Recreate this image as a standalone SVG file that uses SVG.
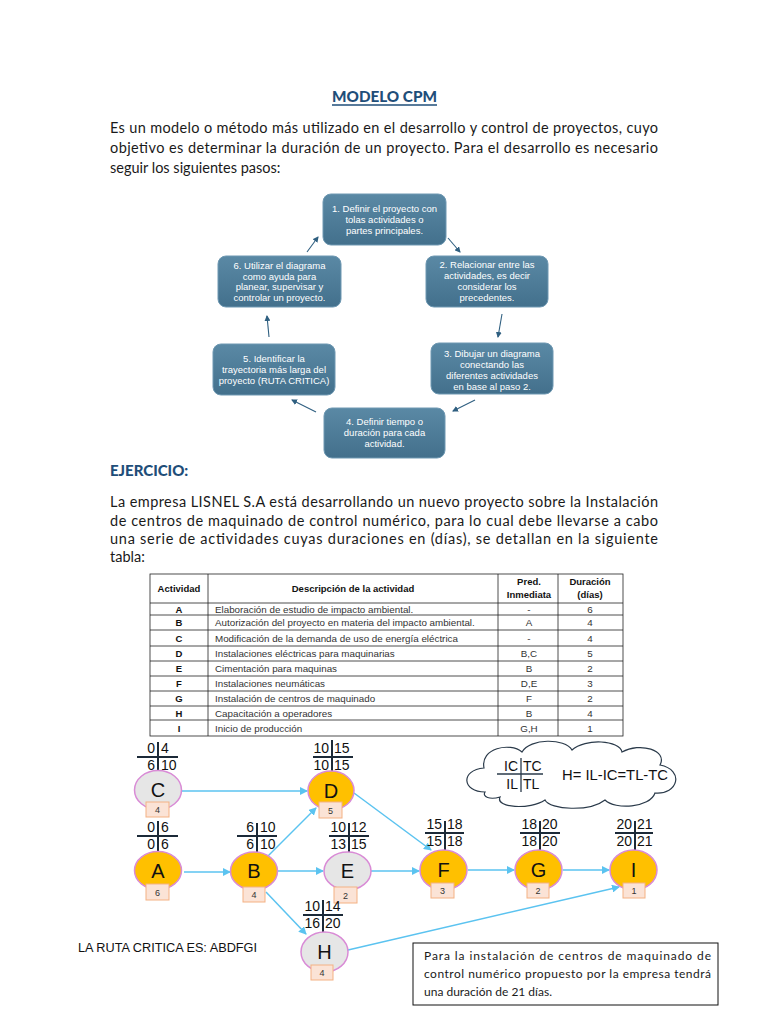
<svg xmlns="http://www.w3.org/2000/svg" width="768" height="1024" viewBox="0 0 768 1024">
<defs>
<linearGradient id="boxg" x1="0" y1="0" x2="0" y2="1">
<stop offset="0" stop-color="#5a89a5"/>
<stop offset="1" stop-color="#43708c"/>
</linearGradient>
<marker id="ab" markerWidth="8" markerHeight="8" refX="7" refY="4" orient="auto" markerUnits="userSpaceOnUse">
<path d="M0,0 L8,4 L0,8 Z" fill="#5bc3f0"/>
</marker>
<marker id="ad" markerWidth="6" markerHeight="6" refX="5" refY="3" orient="auto" markerUnits="userSpaceOnUse">
<path d="M0,0 L6,3 L0,6 Z" fill="#2f5f80"/>
</marker>
<style>
.body{font-family:Lato,"Open Sans","Liberation Sans",sans-serif;font-size:14.5px;fill:#1a1a1a}
.head{font-family:Lato,"Open Sans","Liberation Sans",sans-serif;font-size:15px;font-weight:900;fill:#1f4e79}
.box{fill:url(#boxg);stroke:#6e98b2;stroke-width:1}
.bt{font-family:"Liberation Sans",Arial,sans-serif;font-size:9.5px;fill:#ffffff;text-anchor:middle}
.cyc{stroke:#2f5f80;stroke-width:1.1;fill:none;marker-end:url(#ad)}
.tb{stroke:#222;stroke-width:0.8;fill:none}
.th{font-family:"Liberation Sans",Arial,sans-serif;font-size:9.5px;font-weight:bold;fill:#111;text-anchor:middle}
.td{font-family:"Liberation Sans",Arial,sans-serif;font-size:9.8px;fill:#333}
.tc{font-family:"Liberation Sans",Arial,sans-serif;font-size:9.8px;fill:#333;text-anchor:middle}
.tl{font-family:"Liberation Sans",Arial,sans-serif;font-size:9.5px;font-weight:bold;fill:#111;text-anchor:middle}
.crit{fill:#ffc000;stroke:#d98bd6;stroke-width:1.5}
.norm{fill:#e6e6e6;stroke:#d98bd6;stroke-width:1.5}
.lbl{fill:#fbe3d6;stroke:#f4b183;stroke-width:1}
.lt{font-family:"Liberation Sans",Arial,sans-serif;font-size:9px;fill:#333;text-anchor:middle}
.nl{font-family:"Liberation Sans",Arial,sans-serif;font-size:20px;fill:#111;text-anchor:middle}
.num{font-family:"Liberation Sans",Arial,sans-serif;font-size:14px;fill:#111}
.cr{stroke:#1c2a38;stroke-width:2}
.edge{stroke:#5bc3f0;stroke-width:1.5;fill:none;marker-end:url(#ab)}
.cl{font-family:Lato,"Liberation Sans",sans-serif;font-size:12px;fill:#1a1a1a}
</style>
</defs>
<rect width="768" height="1024" fill="#ffffff"/>

<text x="384.5" y="102" text-anchor="middle" textLength="105" lengthAdjust="spacingAndGlyphs" style="font-family:Lato,'Open Sans','Liberation Sans',sans-serif;font-size:15px;font-weight:900;fill:#1f4e79">MODELO CPM</text>
<line x1="332" y1="105" x2="437" y2="105" stroke="#1f4e79" stroke-width="1.3"/>

<text class="body" x="110" y="133" textLength="548" lengthAdjust="spacing">Es un modelo o método más utilizado en el desarrollo y control de proyectos, cuyo</text>
<text class="body" x="110" y="153" textLength="548" lengthAdjust="spacing">objetivo es determinar la duración de un proyecto. Para el desarrollo es necesario</text>
<text class="body" x="110" y="173">seguir los siguientes pasos:</text>

<g id="step1">
<rect class="box" x="323" y="194" width="123" height="51" rx="8"/>
<text class="bt" x="384.5" y="211.5">1. Definir el proyecto con</text>
<text class="bt" x="384.5" y="222.5">tolas actividades o</text>
<text class="bt" x="384.5" y="233.5">partes principales.</text>
</g>
<g id="step2">
<rect class="box" x="426" y="256" width="122" height="51" rx="8"/>
<text class="bt" x="487" y="268">2. Relacionar entre las</text>
<text class="bt" x="487" y="279">actividades, es decir</text>
<text class="bt" x="487" y="290">considerar los</text>
<text class="bt" x="487" y="301">precedentes.</text>
</g>
<g id="step3">
<rect class="box" x="431" y="343" width="122" height="51" rx="8"/>
<text class="bt" x="492" y="356.5">3. Dibujar un diagrama</text>
<text class="bt" x="492" y="367.5">conectando las</text>
<text class="bt" x="492" y="378.5">diferentes actividades</text>
<text class="bt" x="492" y="389.5">en base al paso 2.</text>
</g>
<g id="step4">
<rect class="box" x="324" y="408" width="121" height="50" rx="8"/>
<text class="bt" x="384.5" y="424.5">4. Definir tiempo o</text>
<text class="bt" x="384.5" y="435.5">duración para cada</text>
<text class="bt" x="384.5" y="446.5">actividad.</text>
</g>
<g id="step5">
<rect class="box" x="213" y="344" width="122" height="51" rx="8"/>
<text class="bt" x="274" y="361.5">5. Identificar la</text>
<text class="bt" x="274" y="372.5">trayectoria más larga del</text>
<text class="bt" x="274" y="383.5">proyecto (RUTA CRITICA)</text>
</g>
<g id="step6">
<rect class="box" x="218" y="256" width="123" height="51" rx="8"/>
<text class="bt" x="279.5" y="268.5">6. Utilizar el diagrama</text>
<text class="bt" x="279.5" y="279.5">como ayuda para</text>
<text class="bt" x="279.5" y="290">planear, supervisar y</text>
<text class="bt" x="279.5" y="300.5">controlar un proyecto.</text>
</g>
<g id="cycle-connectors">
<line class="cyc" x1="448" y1="238" x2="460" y2="252"/>
<line class="cyc" x1="502" y1="314" x2="498" y2="337"/>
<line class="cyc" x1="475" y1="400" x2="453" y2="411"/>
<line class="cyc" x1="316" y1="412" x2="292" y2="400"/>
<line class="cyc" x1="269" y1="337" x2="267" y2="316"/>
<line class="cyc" x1="307" y1="252" x2="318" y2="237"/>
</g>

<text class="head" x="110" y="476">EJERCICIO:</text>

<text class="body" x="110" y="507" textLength="548" lengthAdjust="spacing">La empresa LISNEL S.A está desarrollando un nuevo proyecto sobre la Instalación</text>
<text class="body" x="110" y="526" textLength="548" lengthAdjust="spacing">de centros de maquinado de control numérico, para lo cual debe llevarse a cabo</text>
<text class="body" x="110" y="544" textLength="548" lengthAdjust="spacing">una serie de actividades cuyas duraciones en (días), se detallan en la siguiente</text>
<text class="body" x="110" y="562">tabla:</text>

<g id="table">
<rect class="tb" x="150" y="574" width="473" height="162" stroke-width="1.2"/>
<line class="tb" x1="208" y1="574" x2="208" y2="736"/>
<line class="tb" x1="498" y1="574" x2="498" y2="736"/>
<line class="tb" x1="558" y1="574" x2="558" y2="736"/>
<line class="tb" x1="150" y1="603" x2="623" y2="603"/>
<line class="tb" x1="150" y1="615" x2="623" y2="615"/>
<line class="tb" x1="150" y1="630" x2="623" y2="630"/>
<line class="tb" x1="150" y1="646" x2="623" y2="646"/>
<line class="tb" x1="150" y1="661" x2="623" y2="661"/>
<line class="tb" x1="150" y1="676" x2="623" y2="676"/>
<line class="tb" x1="150" y1="691" x2="623" y2="691"/>
<line class="tb" x1="150" y1="706" x2="623" y2="706"/>
<line class="tb" x1="150" y1="720" x2="623" y2="720"/>
<text class="th" x="179" y="592">Actividad</text>
<text class="th" x="353" y="592">Descripción de la actividad</text>
<text class="th" x="529" y="585">Pred.</text>
<text class="th" x="529" y="598">Inmediata</text>
<text class="th" x="590" y="585">Duración</text>
<text class="th" x="590" y="598">(días)</text>

<text class="tl" x="179" y="612.5">A</text><text class="td" x="215" y="612.5">Elaboración de estudio de impacto ambiental.</text><text class="tc" x="529" y="612.5">-</text><text class="tc" x="590" y="612.5">6</text>
<text class="tl" x="179" y="626">B</text><text class="td" x="215" y="626">Autorización del proyecto en materia del impacto ambiental.</text><text class="tc" x="529" y="626">A</text><text class="tc" x="590" y="626">4</text>
<text class="tl" x="179" y="641.5">C</text><text class="td" x="215" y="641.5">Modificación de la demanda de uso de energía eléctrica</text><text class="tc" x="529" y="641.5">-</text><text class="tc" x="590" y="641.5">4</text>
<text class="tl" x="179" y="657">D</text><text class="td" x="215" y="657">Instalaciones eléctricas para maquinarias</text><text class="tc" x="529" y="657">B,C</text><text class="tc" x="590" y="657">5</text>
<text class="tl" x="179" y="672">E</text><text class="td" x="215" y="672">Cimentación para maquinas</text><text class="tc" x="529" y="672">B</text><text class="tc" x="590" y="672">2</text>
<text class="tl" x="179" y="687">F</text><text class="td" x="215" y="687">Instalaciones neumáticas</text><text class="tc" x="529" y="687">D,E</text><text class="tc" x="590" y="687">3</text>
<text class="tl" x="179" y="702">G</text><text class="td" x="215" y="702">Instalación de centros de maquinado</text><text class="tc" x="529" y="702">F</text><text class="tc" x="590" y="702">2</text>
<text class="tl" x="179" y="716.5">H</text><text class="td" x="215" y="716.5">Capacitación a operadores</text><text class="tc" x="529" y="716.5">B</text><text class="tc" x="590" y="716.5">4</text>
<text class="tl" x="179" y="731.5">I</text><text class="td" x="215" y="731.5">Inicio de producción</text><text class="tc" x="529" y="731.5">G,H</text><text class="tc" x="590" y="731.5">1</text>
</g>

<g id="connectors">
<line class="edge" x1="182" y1="791" x2="307" y2="791"/>
<line class="edge" x1="184" y1="872" x2="230" y2="872"/>
<line class="edge" x1="268" y1="856" x2="316" y2="808"/>
<line class="edge" x1="278" y1="871" x2="323" y2="871"/>
<line class="edge" x1="266" y1="892" x2="306" y2="934"/>
<line class="edge" x1="354" y1="793" x2="431" y2="850"/>
<line class="edge" x1="371" y1="871" x2="419" y2="871"/>
<line class="edge" x1="468" y1="870" x2="514" y2="870"/>
<line class="edge" x1="563" y1="870" x2="609" y2="870"/>
<line class="edge" x1="348" y1="950" x2="619" y2="887"/>
</g>

<g id="node-C">
<line class="cr" x1="137" y1="757" x2="178" y2="757"/><line class="cr" x1="158" y1="742" x2="158" y2="771"/>
<text class="num" x="155" y="753" text-anchor="end">0</text><text class="num" x="161" y="753">4</text>
<text class="num" x="155" y="770" text-anchor="end">6</text><text class="num" x="161" y="770">10</text>
<ellipse class="norm" cx="158" cy="790" rx="23.5" ry="19.5"/>
<text class="nl" x="158" y="797">C</text>
<rect class="lbl" x="146" y="802" width="23" height="15"/><text class="lt" x="157.5" y="813">4</text>
</g>
<g id="node-A">
<line class="cr" x1="137" y1="836" x2="178" y2="836"/><line class="cr" x1="158" y1="821" x2="158" y2="851"/>
<text class="num" x="155" y="832" text-anchor="end">0</text><text class="num" x="161" y="832">6</text>
<text class="num" x="155" y="849" text-anchor="end">0</text><text class="num" x="161" y="849">6</text>
<ellipse class="crit" cx="158" cy="870.5" rx="23.5" ry="19"/>
<text class="nl" x="158" y="878">A</text>
<rect class="lbl" x="146" y="884" width="23" height="16"/><text class="lt" x="157.5" y="895.5">6</text>
</g>
<g id="node-B">
<line class="cr" x1="237" y1="836" x2="277" y2="836"/><line class="cr" x1="257" y1="823" x2="257" y2="852"/>
<text class="num" x="254" y="832" text-anchor="end">6</text><text class="num" x="260" y="832">10</text>
<text class="num" x="254" y="849" text-anchor="end">6</text><text class="num" x="260" y="849">10</text>
<ellipse class="crit" cx="254" cy="871" rx="23.5" ry="19"/>
<text class="nl" x="254" y="878">B</text>
<rect class="lbl" x="243" y="887" width="22" height="15"/><text class="lt" x="254" y="898">4</text>
</g>
<g id="node-D">
<line class="cr" x1="313" y1="757" x2="353" y2="757"/><line class="cr" x1="332" y1="740" x2="332" y2="771"/>
<text class="num" x="329" y="753" text-anchor="end">10</text><text class="num" x="334" y="753">15</text>
<text class="num" x="329" y="770" text-anchor="end">10</text><text class="num" x="334" y="770">15</text>
<ellipse class="crit" cx="331" cy="790.5" rx="23" ry="19.5"/>
<text class="nl" x="331" y="797.5">D</text>
<rect class="lbl" x="319" y="802" width="23" height="16"/><text class="lt" x="330.5" y="814">5</text>
</g>
<g id="node-E">
<line class="cr" x1="329" y1="836" x2="369" y2="836"/><line class="cr" x1="349" y1="823" x2="349" y2="852"/>
<text class="num" x="346" y="832" text-anchor="end">10</text><text class="num" x="351" y="832">12</text>
<text class="num" x="346" y="849" text-anchor="end">13</text><text class="num" x="351" y="849">15</text>
<ellipse class="norm" cx="347.5" cy="871" rx="23.5" ry="19"/>
<text class="nl" x="347.5" y="878">E</text>
<rect class="lbl" x="334" y="887" width="23" height="16"/><text class="lt" x="345.5" y="899">2</text>
</g>
<g id="node-F">
<line class="cr" x1="425" y1="833" x2="464" y2="833"/><line class="cr" x1="445" y1="821" x2="445" y2="850"/>
<text class="num" x="442" y="829" text-anchor="end">15</text><text class="num" x="447" y="829">18</text>
<text class="num" x="442" y="846" text-anchor="end">15</text><text class="num" x="447" y="846">18</text>
<ellipse class="crit" cx="443.5" cy="870" rx="23.5" ry="20"/>
<text class="nl" x="443.5" y="877">F</text>
<rect class="lbl" x="431" y="883" width="23" height="15"/><text class="lt" x="442.5" y="894">3</text>
</g>
<g id="node-G">
<line class="cr" x1="520" y1="833" x2="560" y2="833"/><line class="cr" x1="540" y1="821" x2="540" y2="850"/>
<text class="num" x="537" y="829" text-anchor="end">18</text><text class="num" x="542" y="829">20</text>
<text class="num" x="537" y="846" text-anchor="end">18</text><text class="num" x="542" y="846">20</text>
<ellipse class="crit" cx="538.5" cy="870" rx="23.5" ry="20"/>
<text class="nl" x="538.5" y="877">G</text>
<rect class="lbl" x="527" y="883" width="22" height="15"/><text class="lt" x="538" y="894">2</text>
</g>
<g id="node-I">
<line class="cr" x1="615" y1="833" x2="653" y2="833"/><line class="cr" x1="635" y1="821" x2="635" y2="850"/>
<text class="num" x="632" y="829" text-anchor="end">20</text><text class="num" x="637" y="829">21</text>
<text class="num" x="632" y="846" text-anchor="end">20</text><text class="num" x="637" y="846">21</text>
<ellipse class="crit" cx="633.5" cy="870" rx="23.5" ry="20"/>
<text class="nl" x="633.5" y="877">I</text>
<rect class="lbl" x="623" y="883" width="22" height="15"/><text class="lt" x="634" y="894">1</text>
</g>
<g id="node-H">
<line class="cr" x1="303" y1="915" x2="343" y2="915"/><line class="cr" x1="323" y1="900" x2="323" y2="932"/>
<text class="num" x="320" y="911" text-anchor="end">10</text><text class="num" x="325" y="911">14</text>
<text class="num" x="320" y="928" text-anchor="end">16</text><text class="num" x="325" y="928">20</text>
<ellipse class="norm" cx="324.5" cy="952" rx="23.5" ry="20"/>
<text class="nl" x="324.5" y="959">H</text>
<rect class="lbl" x="311" y="965" width="22" height="15"/><text class="lt" x="322" y="976">4</text>
</g>

<g id="legend-cloud">
<path d="M485 792 C462 792,460 770,484 768 C480 748,510 742,522 752 C530 738,565 738,572 750 C585 738,620 740,622 752 C640 742,668 750,660 765 C685 770,678 795,655 793 C650 808,615 810,605 800 C590 812,550 810,545 800 C530 810,495 808,500 797 C490 800,482 797,485 792 Z" fill="#ffffff" stroke="#2a3a4a" stroke-width="1.2"/>
<line x1="497" y1="774" x2="543" y2="774" stroke="#2a3a4a" stroke-width="1.3"/>
<line x1="521" y1="758" x2="521" y2="792" stroke="#2a3a4a" stroke-width="1.3"/>
<text class="num" x="518" y="771" text-anchor="end">IC</text><text class="num" x="523" y="771">TC</text>
<text class="num" x="518" y="789" text-anchor="end">IL</text><text class="num" x="523" y="789">TL</text>
<text class="num" x="562" y="780" textLength="106" lengthAdjust="spacingAndGlyphs">H= IL-IC=TL-TC</text>
</g>

<text x="78" y="952" textLength="179" lengthAdjust="spacingAndGlyphs" style="font-family:'Liberation Sans',Arial,sans-serif;font-size:12px;fill:#111">LA RUTA CRITICA ES: ABDFGI</text>

<g id="conclusion">
<rect x="413" y="943" width="305" height="62" fill="#ffffff" stroke="#111" stroke-width="1"/>
<text class="cl" x="424" y="960" textLength="287" lengthAdjust="spacing">Para la instalación de centros de maquinado de</text>
<text class="cl" x="424" y="978" textLength="287" lengthAdjust="spacing">control numérico propuesto por la empresa tendrá</text>
<text class="cl" x="424" y="996">una duración de 21 días.</text>
</g>
</svg>
